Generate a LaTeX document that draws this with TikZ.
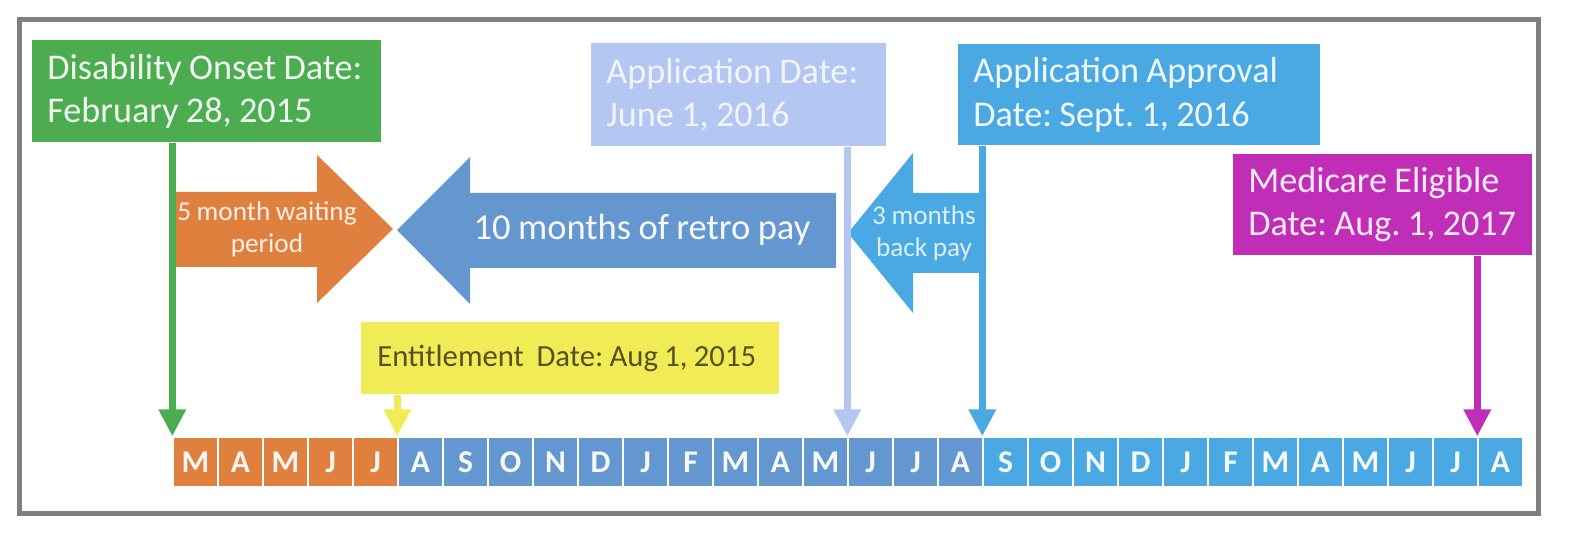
\documentclass[tikz,border=0pt]{standalone}
\usepackage{fontspec}
\setmainfont{Carlito}[WordSpace={0.9,0,0}]
\usepackage{tikz}
\usepackage{xcolor}
\usetikzlibrary{arrows.meta}

\definecolor{onsetgreen}{HTML}{4CAD50}
\definecolor{waitorange}{HTML}{E0803F}
\definecolor{retroblue}{HTML}{6497CF}
\definecolor{backblue}{HTML}{4AA9E2}
\definecolor{appblue}{HTML}{B4C6F2}
\definecolor{medmagenta}{HTML}{C02EB8}
\definecolor{entyellow}{HTML}{F1EC55}
\definecolor{entolive}{HTML}{55521F}
\definecolor{framegray}{HTML}{7F7F7F}

\tikzset{
    datebox/.style={anchor=north west, align=flush left, inner xsep=0.3cm, inner ysep=0pt,
        font=\fontsize{20.6}{24.6}\selectfont,
        execute at begin node={\spaceskip=0pt\xspaceskip=0pt}},
    month/.style={minimum width=0.9cm, minimum height=1cm, inner sep=0pt, draw=white,
        line width=0.8pt, font=\fontsize{18}{20}\selectfont\bfseries},
    arrowtext/.style={align=center, inner sep=0pt},
    marker/.style={line width=0.14cm, -{Triangle[length=0.54cm,width=0.52cm]}},
}

\begin{document}
\frenchspacing
\begin{tikzpicture}[x=0.02cm, y=-0.02cm]
    \useasboundingbox (0,0) rectangle (1572,540);
    \draw[framegray, line width=0.1cm] (19.5,19.5) rectangle (1538.5,513.5);

    % months
    \foreach \m [count=\i] in {M,A,M,J,J}
        \node[month, fill=waitorange, text=waitorange!8] (m\i) at ({150.5+45*\i},462) {\m};
    \foreach \m [count=\i from 6] in {A,S,O,N,D,J,F,M,A,M,J,J,A}
        \node[month, fill=retroblue, text=retroblue!6] (m\i) at ({150.5+45*\i},462) {\m};
    \foreach \m [count=\i from 19] in {S,O,N,D,J,F,M,A,M,J,J,A}
        \node[month, fill=backblue, text=backblue!6] (m\i) at ({150.5+45*\i},462) {\m};

    % dates
    \node[datebox, fill=onsetgreen, text=onsetgreen!8, text width=6.38cm, minimum height=2.04cm]
        (onset) at (32,40) {Disability Onset Date:\\February 28, 2015};
    \node[datebox, fill=appblue, text=appblue!20, text width=5.3cm, minimum height=2.06cm]
        (appdate) at (591,43) {Application Date:\\June 1, 2016};
    \node[datebox, fill=backblue, text=backblue!8, text width=6.64cm, minimum height=2.02cm]
        (approval) at (958,44) {Application Approval\\Date: Sept. 1, 2016};
    \node[datebox, fill=medmagenta, text=medmagenta!10, text width=5.38cm, minimum height=2.02cm]
        (medicare) at (1233,154) {Medicare Eligible\\Date: Aug. 1, 2017};
    \node[datebox, fill=entyellow, text=entolive, text width=7.72cm, minimum height=1.44cm,
        inner xsep=0.32cm, font=\fontsize{17.5}{20}\selectfont]
        (entitle) at (361,322) {Entitlement\ \ Date: Aug 1, 2015};

    % periods
    \fill[waitorange] (173,192) -- (317,192) -- (317,155) -- (393,229) -- (317,303) -- (317,267) -- (173,267) -- cycle;
    \node[arrowtext, text=waitorange!12, font=\fontsize{15.5}{18.5}\selectfont]
        (wait) at (267,229) {5 month waiting\\period};
    \fill[retroblue] (836,193) -- (470,193) -- (470,157) -- (397,230) -- (470,304) -- (470,268) -- (836,268) -- cycle;
    \node[arrowtext, text=retroblue!6, font=\fontsize{20.8}{24}\selectfont]
        (retro) at (642,230) {10 months of retro pay};
    \fill[backblue] (979,193) -- (913,193) -- (913,153) -- (848,233) -- (913,313) -- (913,273) -- (979,273) -- cycle;
    \node[arrowtext, text=backblue!20, font=\fontsize{15.5}{18.5}\selectfont]
        (backpay) at (924,233) {3 months\\back pay};

    \draw[marker, onsetgreen] (onset.south -| m1.north west) -- (m1.north west);
    \draw[marker, entyellow] (entitle.south -| m6.north west) -- (m6.north west);
    \draw[marker, appblue] (appdate.south -| m16.north west) -- (m16.north west);
    \draw[marker, backblue] (approval.south -| m19.north west) -- (m19.north west);
    \draw[marker, medmagenta] (medicare.south -| m30.north west) -- (m30.north west);
\end{tikzpicture}
\end{document}
